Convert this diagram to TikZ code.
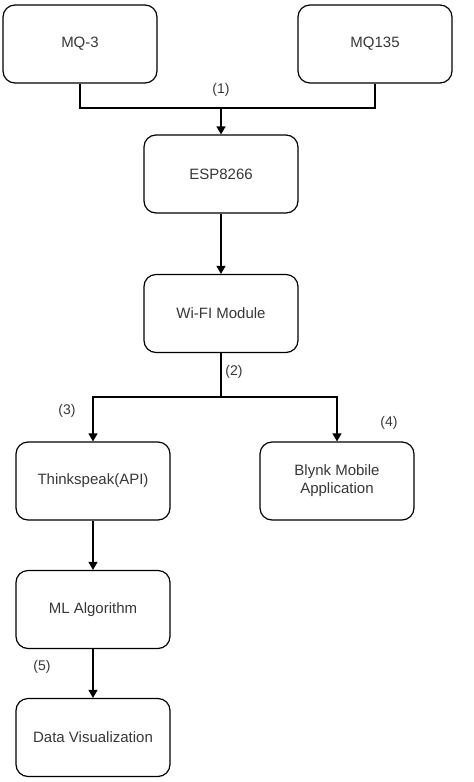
\documentclass[tikz,border=0pt]{standalone}
\usepackage{fontspec}
\setmainfont{Liberation Sans}
\usetikzlibrary{arrows.meta}
\definecolor{txt}{RGB}{55,55,55}
\begin{document}
\begin{tikzpicture}[x=1pt,y=-1pt,
  box/.style={draw=black,line width=1.2pt,rounded corners=12pt,minimum width=154pt,minimum height=78pt,inner sep=0pt,align=center,text=txt,font=\fontsize{15}{18}\selectfont},
  lbl/.style={text=txt,font=\fontsize{14}{16}\selectfont,inner sep=0pt},
  conn/.style={draw=black,line width=1.2pt},
  arr/.style={conn,-{Triangle[width=9pt,length=8pt]}}]
\useasboundingbox (0,0) rectangle (474,782);
\node[box] (mq3) at (80,44) {MQ-3};
\node[box] (mq135) at (375,44) {MQ135};
\node[box] (esp) at (221,174) {ESP8266};
\node[box] (wifi) at (221,313.5) {Wi-FI Module};
\node[box] (think) at (93,481) {Thinkspeak(API)};
\node[box] (blynk) at (337,481) {Blynk Mobile\\Application};
\node[box] (ml) at (93,609.5) {ML Algorithm};
\node[box] (data) at (93,737.5) {Data Visualization};
\coordinate (j1) at (221,108);
\coordinate (j2) at (221,397);
\draw[conn] (mq3.south) |- (j1);
\draw[conn] (mq135.south) |- (j1);
\draw[arr] (j1) -- (esp.north);
\draw[arr] (esp.south) -- (wifi.north);
\draw[conn] (wifi.south) -- (j2);
\draw[arr] (j2) -| (think.north);
\draw[arr] (j2) -| (blynk.north);
\draw[arr] (think.south) -- (ml.north);
\draw[arr] (ml.south) -- (data.north);
\node[lbl] (l1) at (221,90) {(1)};
\node[lbl] (l2) at (234,372) {(2)};
\node[lbl] (l3) at (67,411) {(3)};
\node[lbl] (l4) at (389,423) {(4)};
\node[lbl] (l5) at (42,667) {(5)};
\end{tikzpicture}
\end{document}
